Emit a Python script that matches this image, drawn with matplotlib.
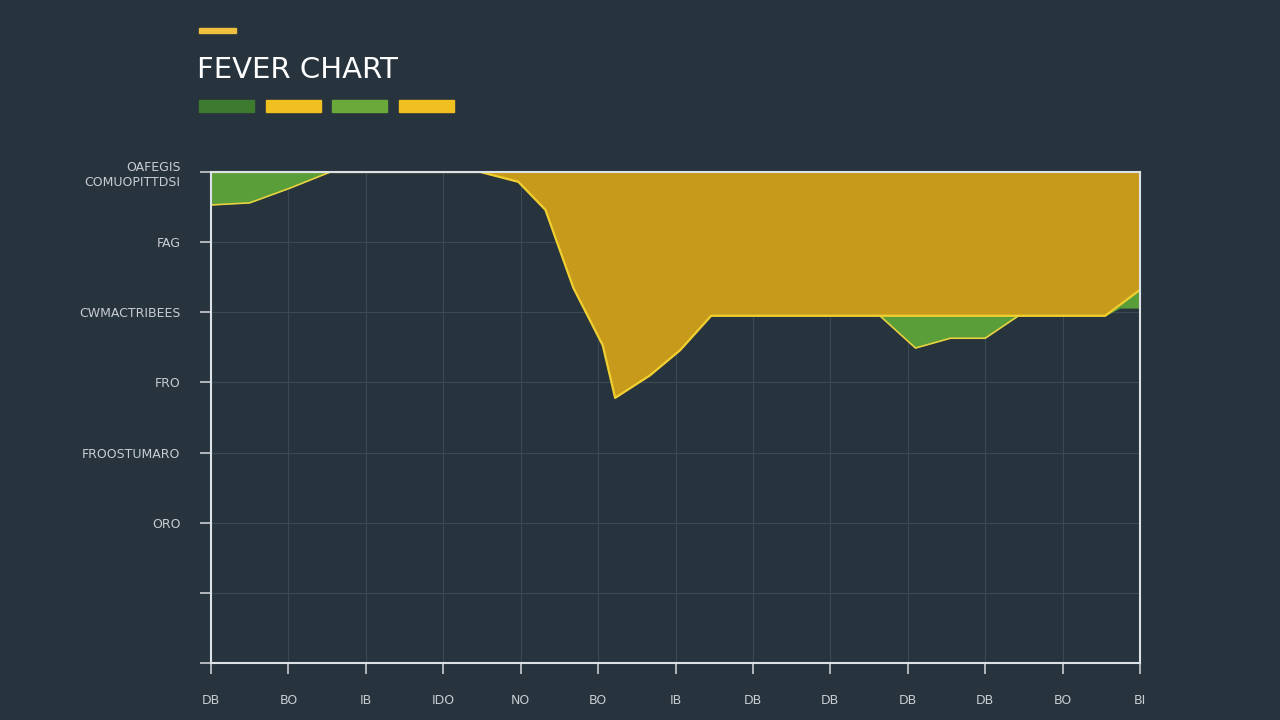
import matplotlib
matplotlib.use("Agg")
import matplotlib.pyplot as plt
from matplotlib.patches import Rectangle

# Data
yellow_x = [0, 3.48, 3.97, 4.32, 4.68, 5.06, 5.22, 5.67, 6.06, 6.46, 11.55, 12]
yellow_y = [7, 7, 6.86, 6.46, 5.35, 4.53, 3.78, 4.10, 4.46, 4.95, 4.95, 5.32]
green_x = [0, 0.50, 1.02, 1.54, 6.0, 6.46, 8.64, 9.10, 9.55, 10.0, 10.43, 11.55, 11.74, 12]
green_y = [6.53, 6.56, 6.77, 7, 7, 4.95, 4.95, 4.49, 4.63, 4.63, 4.95, 4.95, 5.06, 5.06]
green_line_x = [0, 0.50, 1.02, 1.54]
green_line_y = [6.53, 6.56, 6.77, 7]
dip_x = [8.64, 9.10, 9.55, 10.0, 10.43]
dip_y = [4.95, 4.49, 4.63, 4.63, 4.95]
y_ticks = [0, 1, 2, 3, 4, 5, 6, 7]
y_labels = ["", "", "ORO", "FROOSTUMARO", "FRO", "CWMACTRIBEES", "FAG", "OAFEGIS\nCOMUOPITTDSI"]
x_labels = ["DB", "BO", "IB", "IDO", "NO", "BO", "IB", "DB", "DB", "DB", "DB", "BO", "BI"]

bg = "#27333d"
fig = plt.figure(figsize=(12.8, 7.2), dpi=100, facecolor=bg)
ax = fig.add_axes([211/1280, 1-663/720, (1140-211)/1280, (663-172)/720])
ax.set_facecolor(bg)

ax.fill_between(green_x, 7, green_y, color="#5a9e3a", lw=0)
ax.fill_between(yellow_x, 7, yellow_y, color="#c89a1c", lw=0)
ax.plot(yellow_x, yellow_y, color="#f0d030", lw=1.6)
ax.plot(green_line_x, green_line_y, color="#e8d040", lw=1.2)
ax.plot(dip_x, dip_y, color="#e8d040", lw=1.2)

ax.set_xlim(0, 12)
ax.set_ylim(0, 7)
ax.set_xticks(range(13))
ax.set_xticklabels(x_labels)
ax.set_yticks(y_ticks)
ax.set_yticklabels(y_labels)
ax.tick_params(colors="#c8cdd2", labelsize=9, length=8, width=1.2, pad=14)
ax.grid(True, color="#3c4852", lw=0.8)
ax.set_axisbelow(True)
for s in ax.spines.values():
    s.set_color("#dde2e6")
    s.set_linewidth(1.5)

fig.text(197/1280, 1-70/720, "FEVER CHART", color="white", fontsize=21, va="center", ha="left")
fig.patches.append(Rectangle((199/1280, 1-33/720), 37/1280, 5/720, transform=fig.transFigure, color="#f0c040"))
for x0, c in [(199, "#3d7a2e"), (266, "#f0c020"), (332, "#6aaa3a"), (399, "#f0c020")]:
    fig.patches.append(Rectangle((x0/1280, 1-112/720), 55/1280, 12/720, transform=fig.transFigure, color=c))

fig.savefig("out.png", dpi=100, facecolor=bg)
